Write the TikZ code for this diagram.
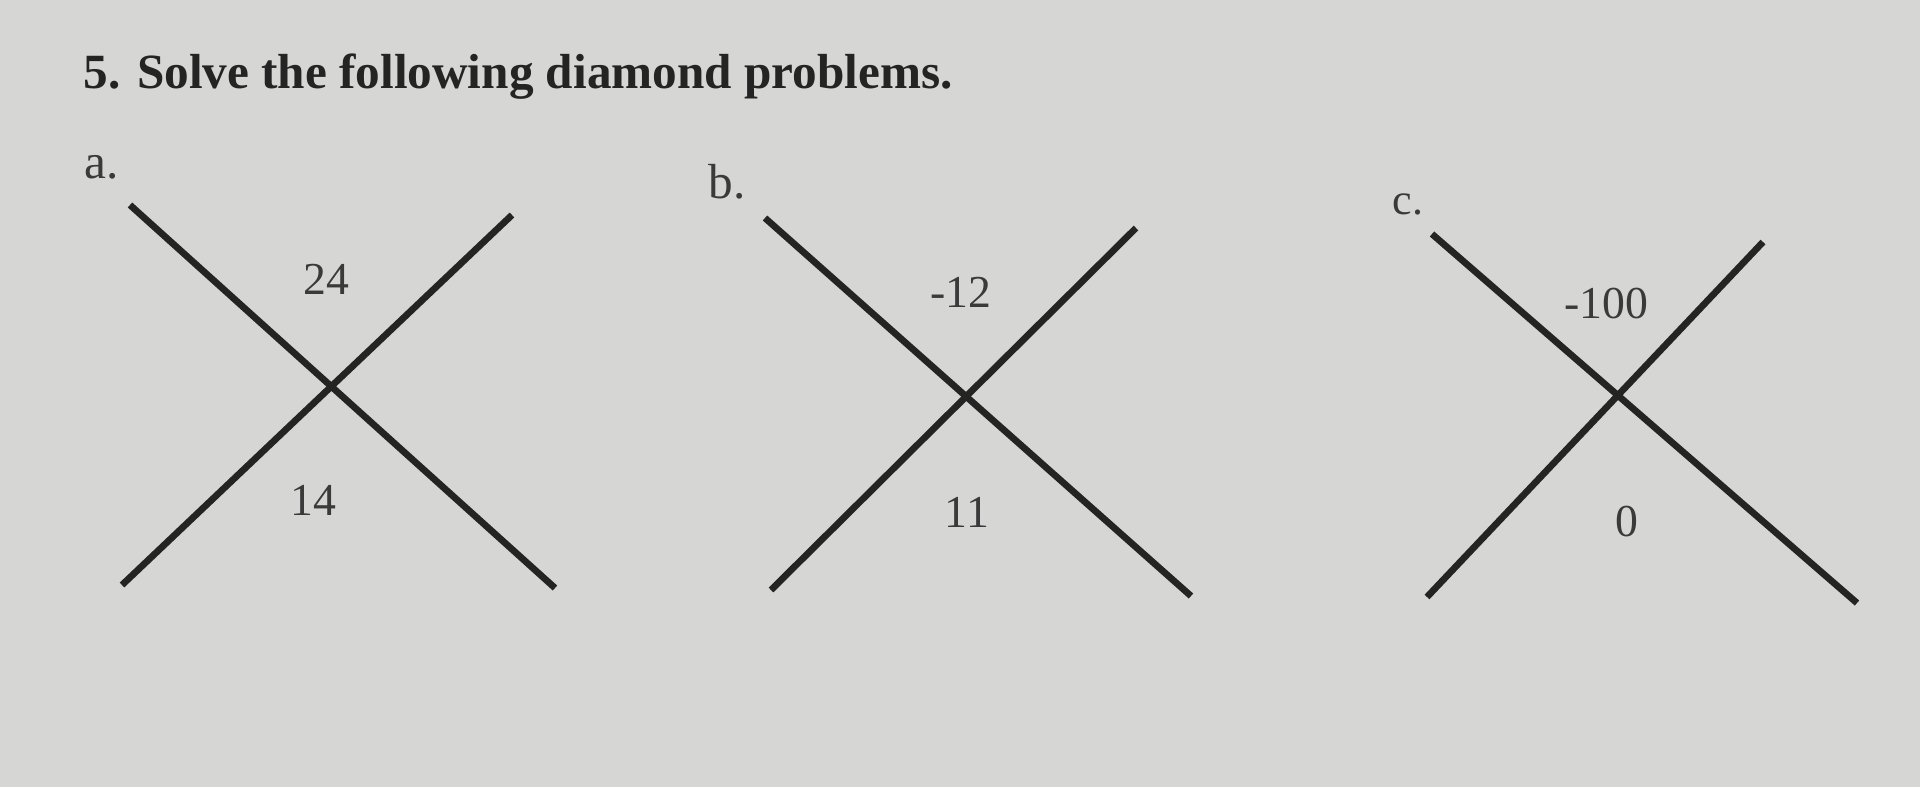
\documentclass[tikz,border=0pt]{standalone}
\usepackage{fontspec}
\setmainfont{Liberation Serif}
\usetikzlibrary{positioning}
\definecolor{paper}{RGB}{214,214,212}
\definecolor{ink}{RGB}{36,36,36}

\begin{document}
\begin{tikzpicture}[x=0.01cm, y=-0.01cm,
    crossline/.style={ink, line width=1.9pt},
    num/.style={inner sep=0pt, text=ink!90, font=\fontsize{13}{15}\selectfont},
    tag/.style={inner sep=0pt, anchor=base west, text=ink!90, font=\fontsize{14}{16}\selectfont}]
  % Sheet
  \fill[paper] (0,0) rectangle (1920,787);
  \useasboundingbox (0,0) rectangle (1920,787);

  % Heading
  \node[anchor=base west, inner sep=0pt, text=ink, font=\fontsize{14}{17}\selectfont\bfseries] (title) at (83,88) {5. Solve the following diamond problems.};

  % Problem a
  \node[tag] (taga) at (84,178) {a.};
  \coordinate (a1) at (130,205); \coordinate (a2) at (555,588);
  \coordinate (a3) at (122,585); \coordinate (a4) at (512,215);
  \draw[crossline] (a1) -- (a2);
  \draw[crossline] (a3) -- (a4);
  \node[num] (atop) at (326,279) {24};
  \node[num] (abot) at (313,500) {14};

  % Problem b
  \node[tag] (tagb) at (708,198) {b.};
  \coordinate (b1) at (765,218); \coordinate (b2) at (1191,596);
  \coordinate (b3) at (771,590); \coordinate (b4) at (1136,228);
  \draw[crossline] (b1) -- (b2);
  \draw[crossline] (b3) -- (b4);
  \node[num] (btop) at (961,292) {-12};
  \node[num] (bbot) at (967,512) {11};

  % Problem c
  \node[tag, font=\fontsize{12.5}{15}\selectfont] (tagc) at (1392,214) {c.};
  \coordinate (c1) at (1432,234); \coordinate (c2) at (1857,603);
  \coordinate (c3) at (1427,597); \coordinate (c4) at (1763,242);
  \draw[crossline] (c1) -- (c2);
  \draw[crossline] (c3) -- (c4);
  \node[num] (ctop) at (1606,304) {-100};
  \node[num] (cbot) at (1627,522) {0};
\end{tikzpicture}
\end{document}
